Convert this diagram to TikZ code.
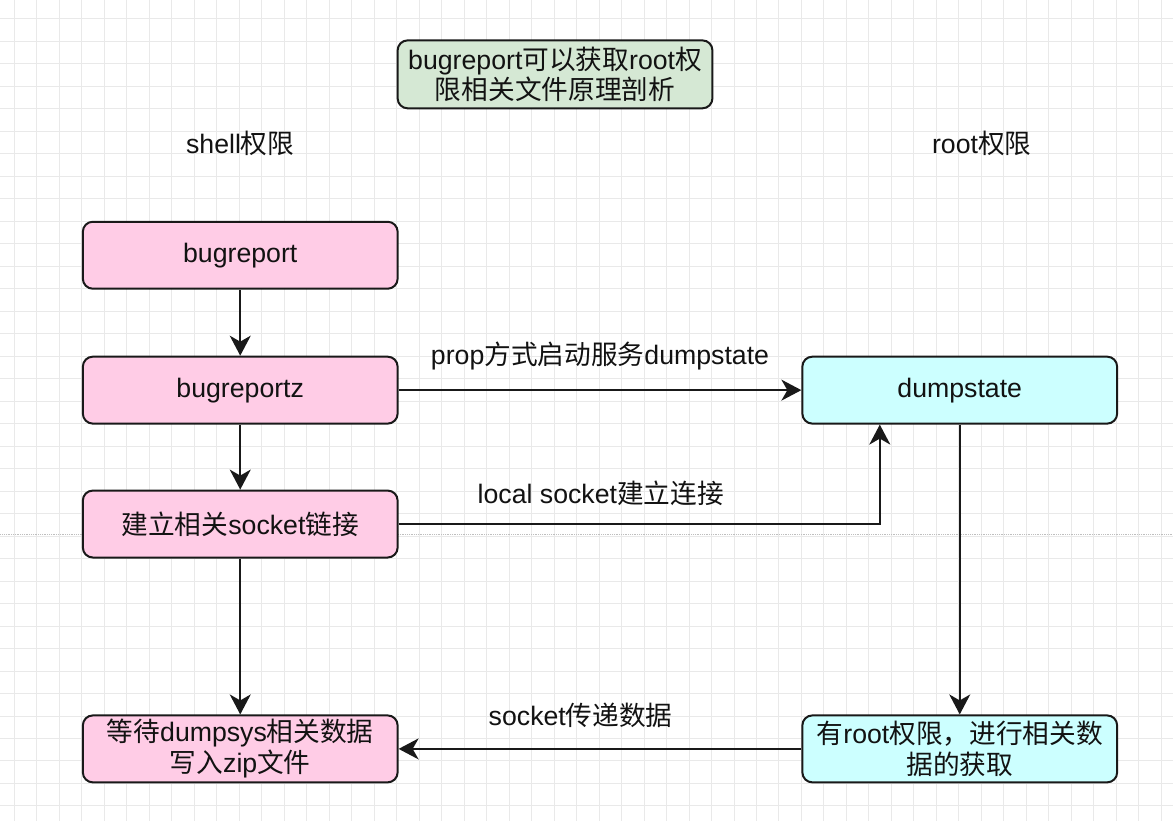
\documentclass[tikz,border=0pt]{standalone}
\usepackage{fontspec}
\setmainfont{Liberation Sans}
\newfontfamily\cjk{Noto Sans CJK SC}
\newcommand\zh[1]{{\cjk #1}}
\usetikzlibrary{arrows.meta,positioning}
\definecolor{pinkfill}{HTML}{FFCCE6}
\definecolor{cyanfill}{HTML}{CCFFFF}
\definecolor{greenfill}{HTML}{D5E8D4}
\definecolor{gridgray}{HTML}{E9E9E9}

\begin{document}
\begin{tikzpicture}[
                x=1pt,y=-1pt,
                every node/.style={font=\fontsize{26.7}{31}\selectfont,align=center,inner sep=0pt,text=black!93},
                box/.style={draw=black!90,line width=2pt,rounded corners=10pt,
                    minimum width=315pt,minimum height=67pt},
                pinkbox/.style={box,fill=pinkfill},
                cyanbox/.style={box,fill=cyanfill},
                titlebox/.style={box,fill=greenfill},
                link/.style={line width=2pt,draw=black!90,
                    -{Stealth[length=20pt,width=21pt,inset=6pt]}},
                gridline/.style={gridgray,line width=0.8pt}
            ]
                % background grid
                \fill[white] (0,0) rectangle (1173,821);
                \foreach \gx in {14,36.5,...,1173} \draw[gridline] (\gx,0) -- (\gx,821);
                \foreach \gy in {18.5,41,...,821} \draw[gridline] (0,\gy) -- (1173,\gy);
                \draw[gray!50,densely dotted,line width=0.8pt] (0,534) -- (1173,534);
                \useasboundingbox (0,0) rectangle (1173,821);

                \node[titlebox,minimum height=68pt] (title) at (555,74)
                    {bugreport\zh{可以获取}root\zh{权}\\\zh{限相关文件原理剖析}};
                \node (shell) at (240,143) {shell\zh{权限}};
                \node (rootlabel) at (982,143) {root\zh{权限}};

                \node[pinkbox] (bugreport)  at (240,255) {bugreport};
                \node[pinkbox] (bugreportz) at (240,390) {bugreportz};
                \node[pinkbox] (socket)     at (240,524) {\zh{建立相关}socket\zh{链接}};
                \node[pinkbox] (wait)       at (240,749)
                    {\zh{等待}dumpsys\zh{相关数据}\\\zh{写入}zip\zh{文件}};
                \node[cyanbox] (dumpstate)  at (960,390) {dumpstate};
                \node[cyanbox] (rootwork)   at (960,749)
                    {\zh{有}root\zh{权限，进行相关数}\\\zh{据的获取}};

                \draw[link] (bugreport) -- (bugreportz);
                \draw[link] (bugreportz) -- (socket);
                \draw[link] (socket) -- (wait);
                \draw[link] (bugreportz) -- node[midway,yshift=34pt]
                    {prop\zh{方式启动服务}dumpstate} (dumpstate);
                \draw[link] (socket.east) -| node[pos=0.21,yshift=31pt]
                    {local socket\zh{建立连接}} ([xshift=-80pt]dumpstate.south);
                \draw[link] (dumpstate) -- (rootwork);
                \draw[link] (rootwork) -- node[pos=0.548,yshift=34pt]
                    {socket\zh{传递数据}} (wait);
            \end{tikzpicture}
\end{document}
